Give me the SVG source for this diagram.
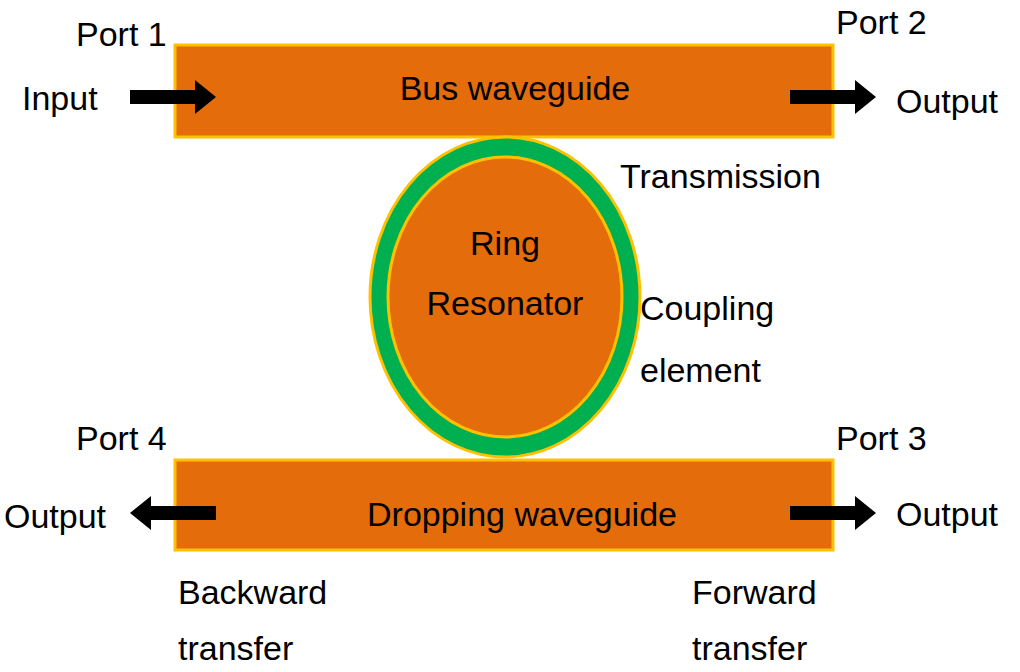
<svg xmlns="http://www.w3.org/2000/svg" width="1020" height="672" viewBox="0 0 1020 672">
<style>
.wg{fill:#E46C0A;stroke:#FFC000;stroke-width:3}
text{font-family:"Liberation Sans Narrow","Liberation Sans",Arial,sans-serif;font-size:34px;fill:#000}
.c{text-anchor:middle}
.ar{fill:#000}
</style>
<rect width="1020" height="672" fill="#fff"/>
<g id="bus"><rect class="wg" x="175" y="45" width="658" height="92"/><text class="c" x="515" y="100">Bus waveguide</text></g>
<g id="drop"><rect class="wg" x="175" y="460" width="658" height="90"/><text class="c" x="522" y="526">Dropping waveguide</text></g>
<g id="ring">
<ellipse cx="505" cy="297" rx="135" ry="160" fill="#00B050" stroke="#FFC000" stroke-width="3"/>
<ellipse cx="505" cy="297" rx="117" ry="140" fill="#E46C0A" stroke="#FFC000" stroke-width="3"/>
<text class="c" x="505" y="255">Ring</text><text class="c" x="505" y="315">Resonator</text>
</g>
<g id="connectors">
<polygon class="ar" points="130,90 195,90 195,80 216,97 195,114 195,104 130,104"/>
<polygon class="ar" points="790,90 855,90 855,80 876,97 855,114 855,104 790,104"/>
<polygon class="ar" points="216,506 151,506 151,496 130,513 151,530 151,520 216,520"/>
<polygon class="ar" points="790,506 855,506 855,496 876,513 855,530 855,520 790,520"/>
</g>
<g id="labels">
<text x="76" y="46">Port 1</text>
<text x="22" y="110">Input</text>
<text x="836" y="34">Port 2</text>
<text x="896" y="113">Output</text>
<text x="620" y="188">Transmission</text>
<text x="640" y="320">Coupling</text>
<text x="640" y="382">element</text>
<text x="76" y="450">Port 4</text>
<text x="4" y="528">Output</text>
<text x="836" y="450">Port 3</text>
<text x="896" y="526">Output</text>
<text x="178" y="604">Backward</text>
<text x="178" y="660">transfer</text>
<text x="692" y="604">Forward</text>
<text x="692" y="660">transfer</text>
</g>
</svg>
